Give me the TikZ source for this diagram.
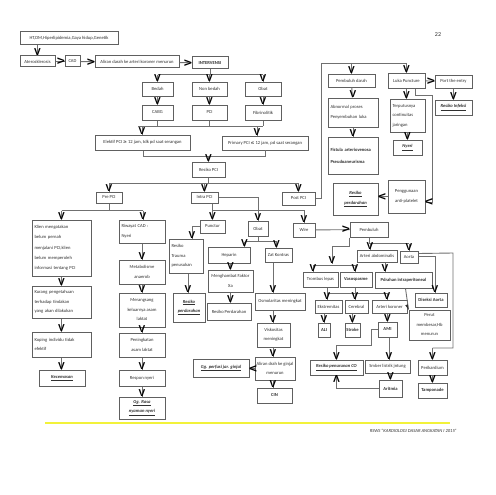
\documentclass[tikz,border=0pt]{standalone}
\usepackage{fontspec}
\setmainfont{Carlito}
\newfontfamily\dv{DejaVu Sans}
\newfontfamily\lsans{Liberation Sans}
\definecolor{bc}{HTML}{606060}
\definecolor{tc}{HTML}{303030}
\definecolor{lc}{HTML}{707070}
\definecolor{yl}{HTML}{F2F23A}
\newcommand\fs{\fontsize{4.6}{6.5}\selectfont}
\newcommand\fsl{\fontsize{4.6}{9.5}\selectfont}
\newcommand\ul[1]{\underline{#1}}
\newcommand\bx[7][]{%
 \pgfmathsetmacro\bxW{#5-#3}\pgfmathsetmacro\bxH{#6-#4}%
 \pgfmathsetmacro\bxX{(#3+#5)/2}\pgfmathsetmacro\bxY{-(#4+#6)/2}%
 \node[box,minimum width=\bxW pt,minimum height=\bxH pt,#1] (#2) at (\bxX,\bxY) {#7};}
\newcommand\bxl[7][]{%
 \pgfmathsetmacro\bxW{#5-#3}\pgfmathsetmacro\bxH{#6-#4}\pgfmathsetmacro\bxT{#5-#3-5}%
 \pgfmathsetmacro\bxX{(#3+#5)/2}\pgfmathsetmacro\bxY{-(#4+#6)/2}%
 \node[box,align=left,text width=\bxT pt,minimum width=\bxW pt,minimum height=\bxH pt,#1] (#2) at (\bxX,\bxY) {#7};}
% chevron tips as bold V glyphs (tip point at the argument)
\newcommand\tipD[1]{\node[tipn,anchor=south] (tp) at (#1) {V};}
\newcommand\tipU[1]{\node[tipn,rotate=180,anchor=south] (tp) at (#1) {V};}
\newcommand\tipR[1]{\node[tipn,rotate=90,anchor=south] (tp) at (#1) {V};}
\newcommand\tipL[1]{\node[tipn,rotate=-90,anchor=south] (tp) at (#1) {V};}
\tikzset{
 box/.style={draw=bc,line width=1pt,inner sep=1pt,font=\fs,text=tc,align=center},
 ml/.style={font=\fsl},
 em/.style={font=\fs\bfseries\itshape},
 eml/.style={font=\fsl\bfseries\itshape},
 bd/.style={font=\fs\bfseries},
 ln/.style={draw=lc,line width=0.9pt},
 tipn/.style={inner sep=0pt,text=black,font=\lsans\bfseries\fontsize{10}{10}\selectfont},
}
\begin{document}
\begin{tikzpicture}[x=1pt,y=1pt]
\fill[white] (0,0) rectangle (495,-495);
\useasboundingbox (0,0) rectangle (495,-495);
\node[font=\fontsize{6}{7}\selectfont,text=tc] (pg) at (438,-35) {22};
% top row
\bx{ht}{20}{32}{118}{45}{HT,DM,Hiperlipidemia,Gaya hidup,Genetik}
\bx{ater}{20}{56}{55}{67}{Aterosklerosis}
\bx{cad}{65}{56}{80}{67}{CAD}
\bx{alir}{95}{56}{179}{68}{Aliran darah ke arteri koroner menurun}
\bx[bd]{interv}{192}{57}{228}{69}{INTERVENSI}
\bx{bedah}{142}{82}{173}{96}{Bedah}
\bx{nonb}{192}{82}{227}{96}{Non bedah}
\bx{obat1}{245}{82}{281}{96}{Obat}
\bx{cabg}{142}{105}{173}{120}{CABG}
\bx{pci}{192}{105}{227}{120}{PCI}
\bx{fib}{245}{105}{281}{120}{Fibrinolitik}
\bx{elek}{95}{135}{190}{150}{Elektif PCI {\dv ≥} 12 jam, tdk pd saat serangan}
\bx{prim}{222}{136}{308}{150}{Primary PCI {\dv ≤} 12 jam, pd saat serangan}
\bx{rpci}{192}{162}{225}{177}{Resiko PCI}
\bx{pre}{96}{192}{122}{203}{Pre PCI}
\bx{intra}{191}{192}{218}{203}{Intra PCI}
\bx{post}{282}{192}{315}{205}{Post PCI}
% right upper
\bx{pd}{328}{74}{375}{87}{Pembuluh darah}
\bxl[ml]{abn}{328}{98}{378}{127}{Abnormal proses\\Penyembuhan luka}
\bxl[font=\fontsize{4.6}{8}\selectfont\bfseries]{fist}{328}{137}{378}{174}{Fistula arteriovenosa\\[4pt]Pseudoaneurisma}
\bx[eml]{rper1}{333}{183}{378}{215}{\ul{Resiko}\\\ul{perdarahan}}
\bx{luka}{388}{73}{425}{88}{Luka Puncture}
\bx{port}{435}{75}{472}{88}{Port the entry}
\bx[em]{rinf}{435}{100}{472}{115}{\ul{Resiko Infeksi}}
\bxl[ml]{terp}{390}{99}{425}{132}{Terputusnya\\continuitas\\jaringan}
\bx[em]{nyeri}{393}{140}{422}{155}{\ul{Nyeri}}
\bx[ml]{peng}{388}{180}{425}{213}{Penggunaan\\anti-platelet}
% left columns
\bxl[font=\fontsize{4.6}{10.3}\selectfont]{klien}{32}{220}{91}{276}{Klien mengatakan\\belum pernah\\menjalani PCI,klien\\belum memperoleh\\informasi tentang PCI}
\bxl[ml]{riw}{119}{220}{165}{243}{Riwayat CAD :\\Nyeri}
\bxl[ml]{kur}{32}{286}{91}{318}{Kurang pengetahuan\\terhadap tindakan\\yang akan dilakukan}
\bxl[ml]{kop}{32}{332}{91}{357}{Koping individu tidak\\efektif}
\bx[em]{kec}{39}{370}{85}{386}{\ul{Kecemasan}}
\bx[ml]{meta}{119}{260}{165}{284}{Metabolisme\\anaerob}
\bx[ml]{mer}{119}{293}{165}{327}{Merangsang\\keluarnya asam\\laktat}
\bx[ml]{pen}{119}{333}{165}{357}{Peningkatan\\asam laktat}
\bx{resp}{119}{370}{165}{386}{Respon nyeri}
\bx[eml]{gg1}{119}{397}{165}{419}{\ul{Gg. Rasa}\\\ul{nyaman nyeri}}
% intra PCI
\bx{punc}{200}{220}{225}{233}{Punctur}
\bx{obat2}{248}{221}{268}{236}{Obat}
\bx{wire}{293}{223}{315}{237}{Wire}
\bxl[ml]{trauma}{169}{239}{203}{273}{Resiko\\Trauma\\penusukan}
\bx[eml]{rper2}{173}{293}{205}{322}{\ul{Resiko}\\\ul{perdarahan}}
\bx{hep}{208}{247}{250}{263}{Heparin}
\bx{zat}{265}{248}{292}{262}{Zat Kontras}
\bx[ml]{meng}{208}{270}{253}{292}{Menghambat Faktor\\Xa}
\bx{rper3}{207}{303}{251}{320}{Resiko Perdarahan}
\bx{osm}{255}{293}{305}{310}{Osmolaritas meningkat}
\bx[ml]{visk}{257}{323}{290}{347}{Viskositas\\meningkat}
\bx[ml]{alg}{255}{357}{295}{380}{Aliran drah ke ginjal\\menurun}
\bx[bd]{cin}{257}{388}{292}{403}{CIN}
\bx[em]{ggp}{193}{359}{249}{377}{\ul{Gg. perfusi jar. ginjal}}
% pembuluh branch
\bx{pemb}{350}{222}{388}{237}{Pembuluh}
\bx{artab}{357}{250}{397}{262}{Arteri abdominalis}
\bx{aorta}{400}{251}{418}{263}{Aorta}
\bx{trom}{303}{272}{338}{287}{Trombus lepas}
\bx[bd]{vaso}{340}{272}{372}{287}{Vasospasme}
\bx[bd]{pdr}{375}{272}{432}{288}{Pdrahan intraperitoneal}
\bx[bd]{dis}{415}{293}{447}{307}{Diseksi Aorta}
\bx{eks}{315}{300}{342}{313}{Ekstremitas}
\bx{cer}{345}{300}{368}{313}{Cerebral}
\bx{ako}{372}{300}{407}{313}{Arteri koroner}
\bx[bd]{ali}{318}{323}{330}{337}{ALI}
\bx[bd]{stroke}{345}{323}{360}{337}{Stroke}
\bx[bd]{ami}{378}{322}{397}{337}{AMI}
\bx[ml]{perut}{409}{310}{450}{340}{Perut\\membesar,Hb\\menurun}
\bx[em]{rpco}{310}{360}{363}{375}{\ul{Resiko penurunan CO}}
\bx{smb}{365}{360}{410}{373}{Smber listrik jntung}
\bx[bd]{arit}{379}{380}{402}{397}{Aritmia}
\bx{peri}{418}{360}{447}{375}{Perikardium}
\bx[bd]{tamp}{418}{383}{447}{398}{Tamponade}
% ---------- connectors ----------
\draw[ln] (ater.north |- ht.south) -- (ater.north); \tipD{ater.north}
\draw[ln] (ater) -- (cad); \tipR{cad.west}
\draw[ln] (cad) -- (alir); \tipR{alir.west}
\draw[ln] (alir) -- (interv); \tipR{interv.west}
\draw[ln] (interv.south) -- ++(0,-5) coordinate (j1);
\draw[ln] (bedah.north |- j1) -- (obat1.north |- j1);
\draw[ln] (bedah.north |- j1) -- (bedah.north); \tipD{bedah.north}
\draw[ln] (nonb.north |- j1) -- (nonb.north); \tipD{nonb.north}
\draw[ln] (obat1.north |- j1) -- (obat1.north); \tipD{obat1.north}
\draw[ln] (bedah) -- (cabg); \tipD{cabg.north}
\draw[ln] (nonb) -- (pci); \tipD{pci.north}
\draw[ln] (obat1) -- (fib); \tipD{fib.north}
\coordinate (j2) at (142,-126);
\draw[ln] (cabg.south) -- (cabg.south |- j2);
\draw[ln] (pci.south) -- (pci.south |- j2);
\draw[ln] (fib.south) -- (fib.south |- j2);
\draw[ln] ([xshift=-4pt]j2) -- (fib.south |- j2);
\draw[ln] (j2) -- (j2 |- elek.north); \tipD{j2 |- elek.north}
\draw[ln] ([xshift=-8pt]prim.north |- j2) -- ([xshift=-8pt]prim.north); \tipD{[xshift=-8pt]prim.north}
\coordinate (j3) at (143,-156);
\draw[ln] (j3 |- elek.south) -- (j3) -- (265,-156) -- (265,-150);
\draw[ln] (rpci.north |- j3) -- (rpci.north); \tipD{rpci.north}
\draw[ln] (rpci.south) -- ++(0,-6) coordinate (j4);
\draw[ln] (pre.north |- j4) -- (post.north |- j4);
\draw[ln] (pre.north |- j4) -- (pre.north); \tipD{pre.north}
\draw[ln] (intra.north |- j4) -- (intra.north); \tipD{intra.north}
\draw[ln] (post.north |- j4) -- (post.north); \tipD{post.north}
% post PCI frame
\coordinate (f1) at (321,-63);
\draw[ln] (post.east) -| (f1) -- (luka.north |- f1);
\draw[ln] (pd.north |- f1) -- (pd.north); \tipD{pd.north}
\draw[ln] (luka.north |- f1) -- (luka.north); \tipD{luka.north}
\draw[ln] (pd) -- (abn); \tipD{abn.north}
\draw[ln] (abn) -- (fist); \tipD{fist.north}
\draw[ln] (luka) -- (port); \tipR{port.west}
\draw[ln] (port) -- (rinf); \tipD{rinf.north}
\draw[ln] (luka) -- (luka.south |- terp.north); \tipD{luka.south |- terp.north}
\draw[ln] (terp.south) -- (terp.south |- nyeri.north); \tipD{terp.south |- nyeri.north}
\draw[ln] ([xshift=-10pt]luka.south east) -- ++(0,-7) -| (432,-202) -- ([yshift=-5.5pt]peng.east); \tipL{[yshift=-5.5pt]peng.east}
\draw[ln] (peng.west) -- (peng.west -| rper1.east); \tipL{peng.west -| rper1.east}
% pre PCI
\draw[ln] (pre.south) -- ++(0,-7) coordinate (j5);
\draw[ln] (klien.north |- j5) -- ([xshift=1pt]riw.north |- j5);
\draw[ln] (klien.north |- j5) -- (klien.north); \tipD{klien.north}
\draw[ln] ([xshift=1pt]riw.north |- j5) -- ([xshift=1pt]riw.north); \tipD{[xshift=1pt]riw.north}
\draw[ln] (klien) -- (kur); \tipD{kur.north}
\draw[ln] (kur) -- (kop); \tipD{kop.north}
\draw[ln] (kop) -- (kop.south |- kec.north); \tipD{kop.south |- kec.north}
\draw[ln] (riw) -- (meta); \tipD{meta.north}
\draw[ln] (meta) -- (mer); \tipD{mer.north}
\draw[ln] (mer) -- (pen); \tipD{pen.north}
\draw[ln] (pen) -- (resp); \tipD{resp.north}
\draw[ln] (resp) -- (gg1); \tipD{gg1.north}
% intra PCI
\coordinate (j10) at (0,-210);
\draw[ln] (intra.south -| punc.north) -- (punc.north); \tipD{punc.north}
\draw[ln] (punc.north |- j10) -- (wire.north |- j10);
\draw[ln] (wire.north |- j10) -- (wire.north); \tipD{wire.north}
\draw[ln] (intra.east) -| (obat2.north); \tipD{obat2.north}
\draw[ln] (punc.west) -| ([xshift=6pt]trauma.north); \tipD{[xshift=6pt]trauma.north}
\draw[ln] ([xshift=2pt]trauma.south) -- ([xshift=2pt]trauma.south |- rper2.north); \tipD{[xshift=2pt]trauma.south |- rper2.north}
\draw[ln] (obat2.south) -- ++(0,-5) coordinate (j6);
\draw[ln] ([xshift=-6pt]hep.north east |- j6) -- ([xshift=-16pt]zat.north east |- j6);
\draw[ln] ([xshift=-6pt]hep.north east |- j6) -- ([xshift=-6pt]hep.north east); \tipD{[xshift=-6pt]hep.north east}
\draw[ln] ([xshift=-16pt]zat.north east |- j6) -- ([xshift=-16pt]zat.north east); \tipD{[xshift=-16pt]zat.north east}
\draw[ln] (hep.south -| meng.north) -- (meng.north); \tipD{meng.north}
\draw[ln] (meng.south) -- (meng.south |- rper3.north); \tipD{meng.south |- rper3.north}
\coordinate (k1) at (273,0);
\draw[ln] (k1 |- zat.south) -- (k1 |- osm.north); \tipD{k1 |- osm.north}
\draw[ln] (k1 |- osm.south) -- (k1 |- visk.north); \tipD{k1 |- visk.north}
\draw[ln] (k1 |- visk.south) -- (k1 |- alg.north); \tipD{k1 |- alg.north}
\draw[ln] (k1 |- alg.south) -- (k1 |- cin.north); \tipD{k1 |- cin.north}
\draw[ln] (alg.west) -- (alg.west -| ggp.east); \tipL{alg.west -| ggp.east}
% wire / pembuluh
\draw[ln] (wire) -- (pemb); \tipR{pemb.west}
\draw[ln] (pemb.south) -- ++(0,-6) coordinate (j7);
\draw[ln] ([xshift=-7pt]artab.north |- j7) -- (aorta.north |- j7);
\draw[ln] ([xshift=-7pt]artab.north |- j7) -- ([xshift=-7pt]artab.north); \tipD{[xshift=-7pt]artab.north}
\draw[ln] (aorta.north |- j7) -- (aorta.north); \tipD{aorta.north}
\coordinate (j8) at (332,-246);
\coordinate (j18) at (332,-264);
\coordinate (j11) at (313,-265);
\coordinate (j12) at (355,-265);
\draw[ln] (pemb.south west) |- (j8);
\draw[ln] (j8) -- (j18); \tipD{j18}
\draw[ln] (j11) -- (j12);
\draw[ln] (j11) -- (j11 |- trom.north); \tipD{j11 |- trom.north}
\draw[ln] (j12) -- (j12 |- vaso.north); \tipD{j12 |- vaso.north}
\draw[ln] ([xshift=8pt]artab.south) -- ([xshift=8pt]artab.south |- pdr.north); \tipD{[xshift=8pt]artab.south |- pdr.north}
\coordinate (j9) at (327,-293);
\coordinate (j13) at (355,-293);
\coordinate (j14) at (387,-293);
\draw[ln] (j9) -- (j14);
\draw[ln] (trom.south -| j9) -- (j9);
\draw[ln] (vaso.south -| j13) -- (j13);
\draw[ln] (j9) -- (j9 |- eks.north); \tipD{j9 |- eks.north}
\draw[ln] (j13) -- (j13 |- cer.north); \tipD{j13 |- cer.north}
\draw[ln] (j14) -- (j14 |- ako.north); \tipD{j14 |- ako.north}
\draw[ln] (eks.south -| ali.north) -- (ali.north); \tipD{ali.north}
\draw[ln] (cer.south -| stroke.north) -- (stroke.north); \tipD{stroke.north}
\draw[ln] (ako.south -| ami.north) -- (ami.north); \tipD{ami.north}
\coordinate (k2) at (389,0);
\draw[ln] (k2 |- ami.south) -- (k2 |- smb.north); \tipD{k2 |- smb.north}
\draw[ln] (smb.south -| arit.north) -- (arit.north); \tipD{arit.north}
\coordinate (j15) at (336.5,-345);
\draw[ln] (ami.west) -- ++(-6,0) |- (j15) -- (rpco.north); \tipD{rpco.north}
\draw[ln] (arit.west) -| (rpco.south); \tipU{rpco.south}
\draw[ln] ([yshift=1pt]aorta.east) -| ([xshift=4pt]dis.north); \tipD{[xshift=4pt]dis.north}
\coordinate (j16) at (453,-253);
\coordinate (j17) at (453,-348);
\draw[ln] ([yshift=-3pt]aorta.north east) -- (j16) -- (j17) -- (peri.north |- j17);
\draw[ln] (peri.north |- j17) -- (peri.north); \tipD{peri.north}
\draw[ln] (peri) -- (tamp); \tipD{tamp.north}
\draw[ln] ([xshift=2pt]pdr.south) -- (perut.north west);
\fill[tc] (perut.north west) -- ++(-3.2,4.2) -- ++(2.6,0.9) -- cycle;
% footer
\coordinate (y1) at (45,-423);
\coordinate (y2) at (450,-423);
\draw[yl,line width=2.2pt] (y1) -- (y2);
\node[font=\fontsize{4.6}{5}\selectfont\itshape,text=tc,anchor=east,inner sep=0pt] (foot) at (457,-431) {RSWS "KARDIOLOGI DASAR ANGKATAN I 2015"};
\end{tikzpicture}
\end{document}
